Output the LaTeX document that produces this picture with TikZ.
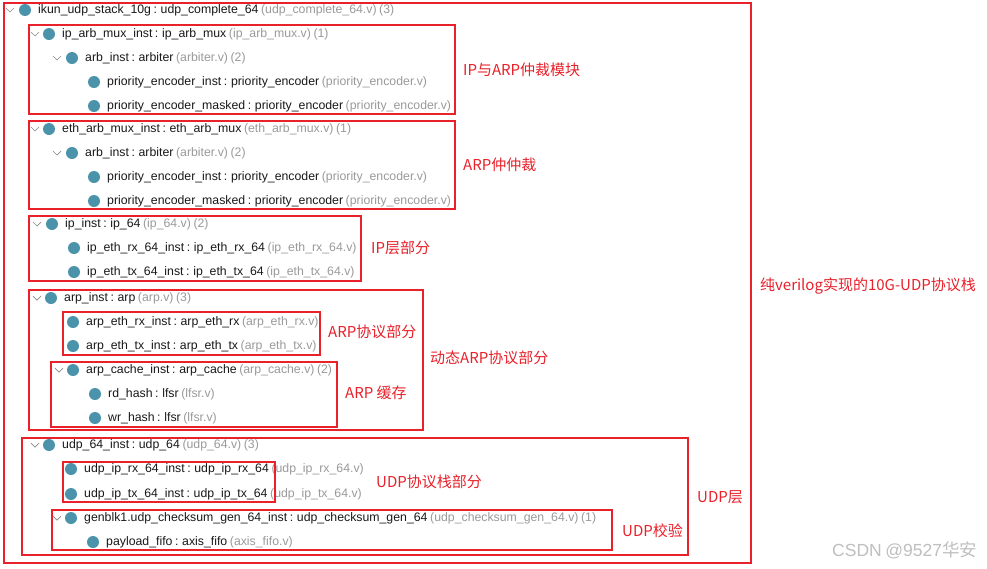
\documentclass[tikz,border=0pt]{standalone}
\usepackage{fontspec}
\setmainfont[WordSpace=0.75]{Liberation Sans}
\newfontfamily\cjk{Noto Sans CJK SC}
\usetikzlibrary{positioning}
\definecolor{boxred}{HTML}{E8212B}
\definecolor{dotblue}{HTML}{4A93AB}
\definecolor{filegray}{HTML}{9A9A9A}
\definecolor{chevgray}{HTML}{8A8A8A}
\tikzset{
  dot/.style={circle,fill=dotblue,inner sep=0pt,minimum size=12pt},
  txt/.style={anchor=west,inner sep=0pt,font=\fontsize{12.3}{14}\selectfont,text=black!90},
  lbl/.style={anchor=west,inner sep=0pt,font=\cjk\fontsize{15}{17}\selectfont,text=boxred},
  redbox/.style={draw=boxred,line width=1.6pt},
  chev/.style={draw=chevgray,line width=0.7pt}
}
\newcommand{\fv}[1]{\textcolor{filegray}{#1}}
\begin{document}
\begin{tikzpicture}[x=1pt,y=-1pt]
\useasboundingbox[fill=white] (0,0) rectangle (987,568);
% tree rows
\draw[chev] (10,10) +(-4,-2) -- +(0,2) -- +(4,-2);
\node[dot] (d0) at (25,10) {};
\node[txt] (t0) at (38,10) {ikun\_udp\_stack\_10g : udp\_complete\_64 \fv{(udp\_complete\_64.v) (3)}};
\draw[chev] (35,34) +(-4,-2) -- +(0,2) -- +(4,-2);
\node[dot] (d1) at (49,34) {};
\node[txt] (t1) at (62,34) {ip\_arb\_mux\_inst : ip\_arb\_mux \fv{(ip\_arb\_mux.v) (1)}};
\draw[chev] (57,58) +(-4,-2) -- +(0,2) -- +(4,-2);
\node[dot] (d2) at (72,58) {};
\node[txt] (t2) at (85,58) {arb\_inst : arbiter \fv{(arbiter.v) (2)}};
\node[dot] (d3) at (94,82) {};
\node[txt] (t3) at (107,82) {priority\_encoder\_inst : priority\_encoder \fv{(priority\_encoder.v)}};
\node[dot] (d4) at (94,106) {};
\node[txt] (t4) at (107,106) {priority\_encoder\_masked : priority\_encoder \fv{(priority\_encoder.v)}};
\draw[chev] (35,129) +(-4,-2) -- +(0,2) -- +(4,-2);
\node[dot] (d5) at (49,129) {};
\node[txt] (t5) at (62,129) {eth\_arb\_mux\_inst : eth\_arb\_mux \fv{(eth\_arb\_mux.v) (1)}};
\draw[chev] (57,153) +(-4,-2) -- +(0,2) -- +(4,-2);
\node[dot] (d6) at (72,153) {};
\node[txt] (t6) at (85,153) {arb\_inst : arbiter \fv{(arbiter.v) (2)}};
\node[dot] (d7) at (94,177) {};
\node[txt] (t7) at (107,177) {priority\_encoder\_inst : priority\_encoder \fv{(priority\_encoder.v)}};
\node[dot] (d8) at (94,201) {};
\node[txt] (t8) at (107,201) {priority\_encoder\_masked : priority\_encoder \fv{(priority\_encoder.v)}};
\draw[chev] (37,224) +(-4,-2) -- +(0,2) -- +(4,-2);
\node[dot] (d9) at (52,224) {};
\node[txt] (t9) at (65,224) {ip\_inst : ip\_64 \fv{(ip\_64.v) (2)}};
\node[dot] (d10) at (74,248) {};
\node[txt] (t10) at (87,248) {ip\_eth\_rx\_64\_inst : ip\_eth\_rx\_64 \fv{(ip\_eth\_rx\_64.v)}};
\node[dot] (d11) at (74,272) {};
\node[txt] (t11) at (87,272) {ip\_eth\_tx\_64\_inst : ip\_eth\_tx\_64 \fv{(ip\_eth\_tx\_64.v)}};
\draw[chev] (37,298) +(-4,-2) -- +(0,2) -- +(4,-2);
\node[dot] (d12) at (51,298) {};
\node[txt] (t12) at (64,298) {arp\_inst : arp \fv{(arp.v) (3)}};
\node[dot] (d13) at (73,322) {};
\node[txt] (t13) at (86,322) {arp\_eth\_rx\_inst : arp\_eth\_rx \fv{(arp\_eth\_rx.v)}};
\node[dot] (d14) at (73,346) {};
\node[txt] (t14) at (86,346) {arp\_eth\_tx\_inst : arp\_eth\_tx \fv{(arp\_eth\_tx.v)}};
\draw[chev] (59,370) +(-4,-2) -- +(0,2) -- +(4,-2);
\node[dot] (d15) at (73,370) {};
\node[txt] (t15) at (86,370) {arp\_cache\_inst : arp\_cache \fv{(arp\_cache.v) (2)}};
\node[dot] (d16) at (95,394) {};
\node[txt] (t16) at (108,394) {rd\_hash : lfsr \fv{(lfsr.v)}};
\node[dot] (d17) at (95,418) {};
\node[txt] (t17) at (108,418) {wr\_hash : lfsr \fv{(lfsr.v)}};
\draw[chev] (35,445) +(-4,-2) -- +(0,2) -- +(4,-2);
\node[dot] (d18) at (49,445) {};
\node[txt] (t18) at (62,445) {udp\_64\_inst : udp\_64 \fv{(udp\_64.v) (3)}};
\node[dot] (d19) at (71,469) {};
\node[txt] (t19) at (84,469) {udp\_ip\_rx\_64\_inst : udp\_ip\_rx\_64 \fv{(udp\_ip\_rx\_64.v)}};
\node[dot] (d20) at (71,494) {};
\node[txt] (t20) at (84,494) {udp\_ip\_tx\_64\_inst : udp\_ip\_tx\_64 \fv{(udp\_ip\_tx\_64.v)}};
\draw[chev] (57,518) +(-4,-2) -- +(0,2) -- +(4,-2);
\node[dot] (d21) at (71,518) {};
\node[txt] (t21) at (84,518) {genblk1.udp\_checksum\_gen\_64\_inst : udp\_checksum\_gen\_64 \fv{(udp\_checksum\_gen\_64.v) (1)}};
\node[dot] (d22) at (93,542) {};
\node[txt] (t22) at (106,542) {payload\_fifo : axis\_fifo \fv{(axis\_fifo.v)}};
% red frames
\draw[redbox] (4,3) rectangle (751,563);
\draw[redbox] (29,25) rectangle (455,114);
\draw[redbox] (29,121) rectangle (455,209);
\draw[redbox] (29,216) rectangle (361,281);
\draw[redbox] (29,290) rectangle (423,430);
\draw[redbox] (63,312) rectangle (320,355);
\draw[redbox] (51,362) rectangle (337,427);
\draw[redbox] (22,438) rectangle (688,555);
\draw[redbox] (63,462) rectangle (275,502);
\draw[redbox] (52,510) rectangle (612,550);
% notes
\node[lbl] (l1) at (463,70) {IP与ARP仲裁模块};
\node[lbl] (l2) at (463,165) {ARP仲仲裁};
\node[lbl] (l3) at (371,248) {IP层部分};
\node[lbl] (l4) at (328,332) {ARP协议部分};
\node[lbl] (l5) at (430,358) {动态ARP协议部分};
\node[lbl] (l6) at (345,393) {ARP 缓存};
\node[lbl] (l7) at (760,286) {纯verilog实现的10G-UDP协议栈};
\node[lbl] (l8) at (376,482) {UDP协议栈部分};
\node[lbl] (l9) at (697,497) {UDP层};
\node[lbl] (l10) at (622,531) {UDP校验};
\node[anchor=west,inner sep=0pt,font=\fontsize{17.5}{19}\selectfont,text=black!25] (wm) at (832,550) {CSDN @9527\cjk 华安};
\end{tikzpicture}
\end{document}
